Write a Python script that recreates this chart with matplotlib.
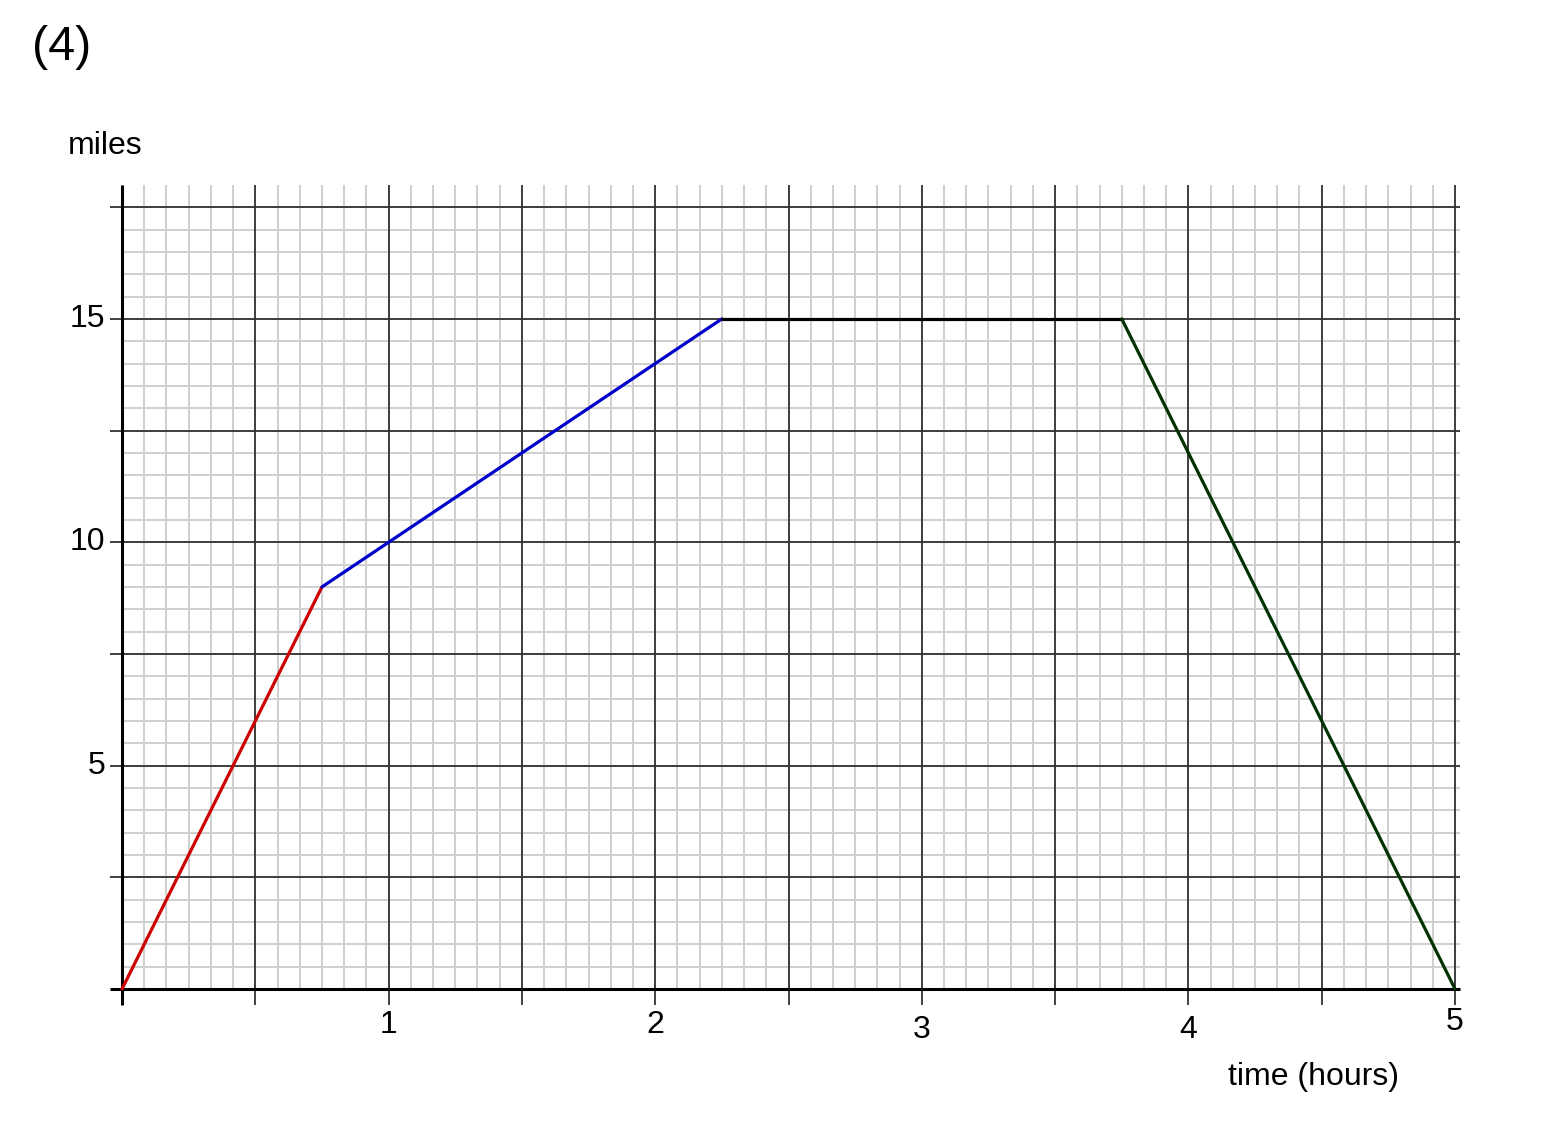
import numpy as np
import matplotlib
matplotlib.use("Agg")
import matplotlib.pyplot as plt
from matplotlib.transforms import offset_copy

plt.rcParams['font.family'] = ['Liberation Sans', 'DejaVu Sans']

# Data
seg_x = [[0, 0.75], [0.75, 2.25], [2.25, 3.75], [3.75, 5]]
seg_y = [[0, 9], [9, 15], [15, 15], [15, 0]]
seg_colors = ['#cc0000', '#0000cc', '#000000', '#003300']

x_tick_vals = [1, 2, 3, 4, 5]
x_tick_labels = ['1', '2', '3', '4', '5']
x_label_drop = [36, 36, 41, 41, 33]   # px below axis (staggered as in reference)
y_tick_vals = [5, 10, 15]
y_tick_labels = ['5', '10', '15']

fig = plt.figure(figsize=(15.56, 11.44), dpi=100)
ax = fig.add_axes([0.06986, 0.116, 0.8738, 0.7302])
ax.set_xlim(-0.05, 5.05)
ax.set_ylim(-0.5, 18.2)
ax.axis('off')

# grid: minor
minor_x = np.arange(0, 61) / 12.0
minor_y = np.arange(1, 36) * 0.5
ax.vlines(minor_x, 0, 18.0, color='#cfcfcf', lw=1.4, zorder=1)
ax.hlines(minor_y, 0, 5.02, color='#cfcfcf', lw=1.4, zorder=1)
# grid: major
major_x = np.arange(1, 11) * 0.5
major_y = np.arange(1, 8) * 2.5
ax.vlines(major_x, -0.36, 18.0, color='#333333', lw=1.3, zorder=2)
ax.hlines(major_y, -0.045, 5.02, color='#333333', lw=1.3, zorder=2)
# axes lines
ax.vlines([0], -0.36, 18.0, color='black', lw=2.2, zorder=3)
ax.hlines([0], -0.045, 5.02, color='black', lw=2.2, zorder=3)

for xs, ys, c in zip(seg_x, seg_y, seg_colors):
    ax.plot(xs, ys, color=c, lw=2.3, zorder=4, solid_capstyle='round')

fs = 23
for v, lab, d in zip(x_tick_vals, x_tick_labels, x_label_drop):
    tr = offset_copy(ax.transData, fig=fig, x=0, y=-d, units='dots')
    ax.text(v, 0, lab, transform=tr, ha='center', va='center', fontsize=fs)
for v, lab in zip(y_tick_vals, y_tick_labels):
    tr = offset_copy(ax.transData, fig=fig, x=-17, y=0, units='dots')
    ax.text(0, v, lab, transform=tr, ha='right', va='center', fontsize=fs)

fig.text(1313 / 1556, 1 - 1077 / 1144, 'time (hours)', ha='center', va='center', fontsize=fs)
fig.text(105 / 1556, 1 - 146 / 1144, 'miles', ha='center', va='center', fontsize=fs)
fig.text(62 / 1556, 1 - 48 / 1144, '(4)', ha='center', va='center', fontsize=35)

fig.savefig('out.png', dpi=100)
